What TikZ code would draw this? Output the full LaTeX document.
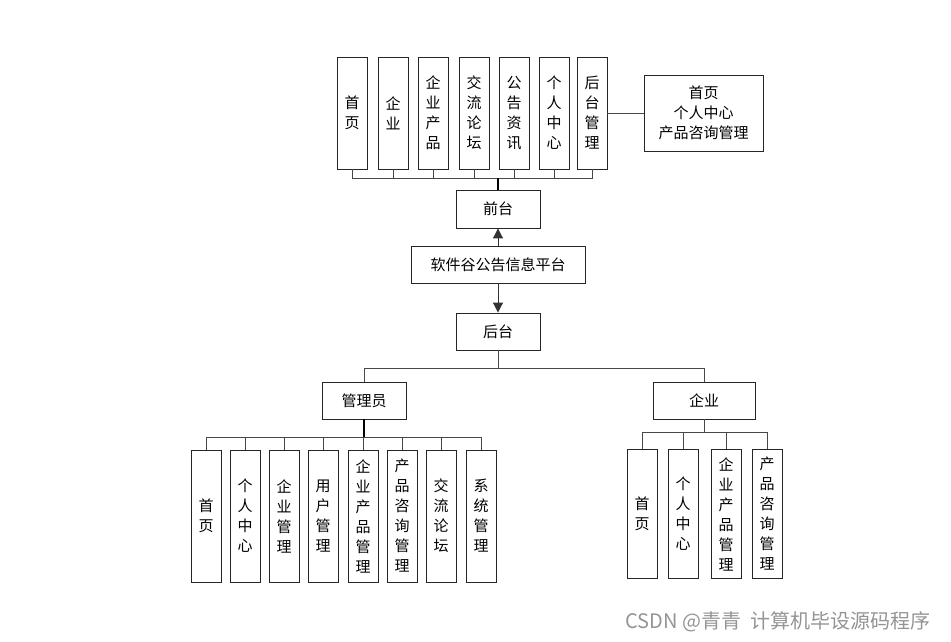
\documentclass[tikz,border=0pt]{standalone}
\usepackage{fontspec}
\setmainfont{Noto Sans CJK SC}
\usetikzlibrary{arrows.meta}

\begin{document}
\begin{tikzpicture}[x=1pt,y=-1pt,
                    every node/.style={font=\fontsize{15pt}{20pt}\selectfont},
                    box/.style={draw=black!85,line width=0.9pt,inner sep=0pt,align=center},
                    vbox/.style={box,minimum width=30pt},
                    link/.style={draw=black!72,line width=1pt},
                    trunk/.style={draw=black,line width=1.4pt},
                    arrow/.style={draw=black!80,line width=1pt,-{Triangle[width=10pt,length=10pt]}}
]
\useasboundingbox (0,0) rectangle (951,642);

% Front end: module boxes and the menu box
\foreach \x/\t [count=\i] in {352/首\\页, 393/企\\业, 433/企\\业\\产\\品, 474/交\\流\\论\\坛,
                              514/公\\告\\资\\讯, 554/个\\人\\中\\心, 592/后\\台\\管\\理}
    \node [vbox,minimum height=112pt] (f\i) at (\x,113) {\t};
\node [box,minimum width=119pt,minimum height=76pt] (fmenu) at (703.5,113) {首页\\个人中心\\产品咨询管理};
\draw [link] (f7.east) -- (fmenu.west);

% Centre column
\node [box,minimum width=84pt,minimum height=38pt] (front) at (498,209) {前台};
\node [box,minimum width=174pt,minimum height=37pt] (plat) at (498,264.5) {软件谷公告信息平台};
\node [box,minimum width=84pt,minimum height=37pt] (back) at (498,331.5) {后台};

% Roles
\node [box,minimum width=84pt,minimum height=37pt] (adm) at (364,400.5) {管理员};
\node [box,minimum width=102pt,minimum height=37pt] (ent) at (704,400.5) {企业};

% Administrator modules
\foreach \x/\t [count=\i] in {206/首\\页, 245/个\\人\\中\\心, 284/企\\业\\管\\理, 323/用\\户\\管\\理,
                              363/企\\业\\产\\品\\管\\理, 402/产\\品\\咨\\询\\管\\理,
                              441/交\\流\\论\\坛, 481/系\\统\\管\\理}
    \node [vbox,minimum height=132pt] (a\i) at (\x,516) {\t};

% Enterprise modules
\foreach \x/\t [count=\i] in {642/首\\页, 683/个\\人\\中\\心, 726/企\\业\\产\\品\\管\\理,
                              767/产\\品\\咨\\询\\管\\理}
    \node [vbox,minimum height=129pt] (e\i) at (\x,514) {\t};

% Bus points
\coordinate (fbus) at (498,178);
\coordinate (bbus) at (498,368);
\coordinate (abus) at (364,437);
\coordinate (ebus) at (704,432);

% Front modules to front end
\foreach \i in {1,...,7}
    \draw [link] (f\i.south) |- (fbus);
\draw [trunk] (fbus) -- (front.north);

% Platform arrows
\draw [arrow] (plat.north) -- (front.south);
\draw [arrow] (plat.south) -- (back.north);

% Back end to roles
\draw [link] (back.south) -- (bbus);
\draw [link] (bbus) -| (adm.north);
\draw [link] (bbus) -| (ent.north);

% Roles to their modules
\draw [trunk] (adm.south) -- (abus);
\foreach \i in {1,...,8}
    \draw [link] (abus) -| (a\i.north);
\draw [link] (ent.south) -- (ebus);
\foreach \i in {1,...,4}
    \draw [link] (ebus) -| (e\i.north);

% Watermark
\node [text=black!42,font=\fontsize{20pt}{22pt}\selectfont,anchor=east] (mark) at (934,622) {CSDN @青青\ \ 计算机毕设源码程序};

\end{tikzpicture}
\end{document}
